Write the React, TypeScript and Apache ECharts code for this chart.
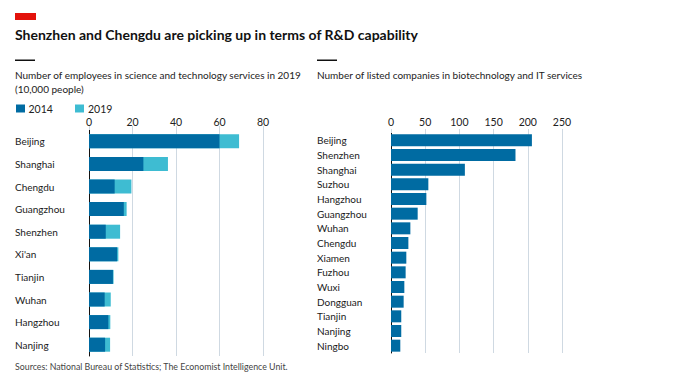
import React, { useEffect, useRef } from "react";
import * as echarts from "echarts";

const leftCities = ["Beijing", "Shanghai", "Chengdu", "Guangzhou", "Shenzhen", "Xi'an", "Tianjin", "Wuhan", "Hangzhou", "Nanjing"];
const emp2014 = [60, 25, 11.8, 16, 7.7, 12.9, 11, 7.2, 8.9, 7.4];
const emp2019 = [69, 36.3, 19.5, 17.3, 14.3, 13.5, 11.3, 10, 9.8, 9.7];
const leftTicks = [0, 20, 40, 60, 80];

const rightCities = ["Beijing", "Shenzhen", "Shanghai", "Suzhou", "Hangzhou", "Guangzhou", "Wuhan", "Chengdu", "Xiamen", "Fuzhou", "Wuxi", "Dongguan", "Tianjin", "Nanjing", "Ningbo"];
const listed = [206, 182, 108, 54.6, 51.7, 39, 28.3, 25.4, 22.4, 21.4, 19.5, 18.5, 15, 15, 13.6];
const rightTicks = [0, 50, 100, 150, 200, 250];

const DARK = "#006ba2";
const LIGHT = "#3ebcd2";
const GRID = "#cfd9e2";
const FONT = "Lato, 'Noto Sans', sans-serif";

export default function App() {
  const ref = useRef<HTMLDivElement>(null);
  useEffect(() => {
    const chart = echarts.init(ref.current!, null, { renderer: "svg" });
    const xCommon = (max: number, interval: number, margin: number) => ({
      type: "value" as const,
      position: "top" as const,
      min: 0,
      max,
      interval,
      axisLine: { show: false },
      axisTick: { show: true, length: 4, lineStyle: { color: GRID } },
      splitLine: { show: true, lineStyle: { color: GRID, width: 1 } },
      axisLabel: { color: "#222", fontSize: 10.5, fontFamily: FONT, margin },
    });
    const yCommon = (data: string[]) => ({
      type: "category" as const,
      data,
      inverse: true,
      axisLine: { show: true, lineStyle: { color: "#111", width: 1 } },
      axisTick: { show: false },
      axisLabel: { color: "#1a1a1a", fontSize: 10, fontFamily: FONT, align: "left" as const, margin: 74 },
    });
    chart.setOption({
      animation: false,
      grid: [
        { left: 89, top: 130, width: 174, height: 226 },
        { left: 391, top: 133, width: 171, height: 220 },
      ],
      xAxis: [
        { ...xCommon(leftTicks[leftTicks.length - 1], leftTicks[1] - leftTicks[0], 3), gridIndex: 0 },
        { ...xCommon(rightTicks[rightTicks.length - 1], rightTicks[1] - rightTicks[0], 6), gridIndex: 1 },
      ],
      yAxis: [
        { ...yCommon(leftCities), gridIndex: 0 },
        { ...yCommon(rightCities), gridIndex: 1 },
      ],
      series: [
        { name: "2019", type: "bar", xAxisIndex: 0, yAxisIndex: 0, data: emp2019, barWidth: 14, barGap: "-100%", itemStyle: { color: LIGHT }, z: 2 },
        { name: "2014", type: "bar", xAxisIndex: 0, yAxisIndex: 0, data: emp2014, barWidth: 14, itemStyle: { color: DARK }, z: 3 },
        { name: "listed", type: "bar", xAxisIndex: 1, yAxisIndex: 1, data: listed, barWidth: 12, itemStyle: { color: DARK } },
      ],
      graphic: [
        { type: "rect", shape: { x: 15, y: 13, width: 21, height: 7 }, style: { fill: "#e3120b" } },
        { type: "text", x: 15, y: 34, style: { text: "Shenzhen and Chengdu are picking up in terms of R&D capability", fontSize: 14, fontWeight: "bold", fontFamily: FONT, fill: "#111", verticalAlign: "middle" } },
        { type: "rect", shape: { x: 15, y: 59.5, width: 20, height: 1.5 }, style: { fill: "#111" } },
        { type: "rect", shape: { x: 317, y: 59.5, width: 20, height: 1.5 }, style: { fill: "#111" } },
        { type: "text", x: 15, y: 75, style: { text: "Number of employees in science and technology services in 2019", fontSize: 10, fontFamily: FONT, fill: "#222", verticalAlign: "middle" } },
        { type: "text", x: 15, y: 89, style: { text: "(10,000 people)", fontSize: 10, fontFamily: FONT, fill: "#222", verticalAlign: "middle" } },
        { type: "text", x: 317, y: 75, style: { text: "Number of listed companies in biotechnology and IT services", fontSize: 10, fontFamily: FONT, fill: "#222", verticalAlign: "middle" } },
        { type: "rect", shape: { x: 16, y: 104.5, width: 9, height: 8 }, style: { fill: DARK } },
        { type: "text", x: 28.5, y: 108.7, style: { text: "2014", fontSize: 10.5, fontFamily: FONT, fill: "#222", verticalAlign: "middle" } },
        { type: "rect", shape: { x: 75, y: 104.5, width: 9, height: 8 }, style: { fill: LIGHT } },
        { type: "text", x: 88, y: 108.7, style: { text: "2019", fontSize: 10.5, fontFamily: FONT, fill: "#222", verticalAlign: "middle" } },
        { type: "text", x: 15, y: 366.5, style: { text: "Sources: National Bureau of Statistics; The Economist Intelligence Unit.", fontSize: 8.8, fontFamily: FONT, fill: "#444", verticalAlign: "middle" } },
      ],
    });
    return () => chart.dispose();
  }, []);
  return <div ref={ref} style={{ width: 680, height: 384, position: "absolute", left: 0, top: 0 }} />;
}
